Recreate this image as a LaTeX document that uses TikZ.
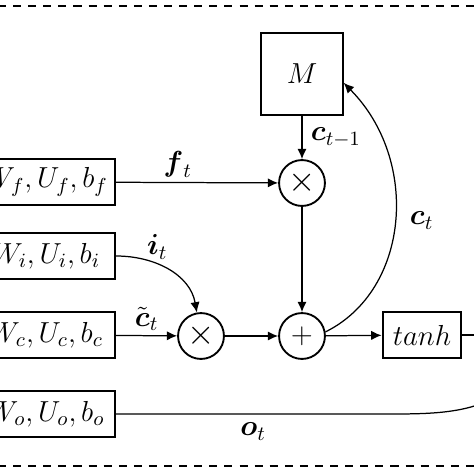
\RequirePackage{fix-cm}
\documentclass[tikz,border=0pt]{standalone}
\usepackage{amsmath,amssymb}
\usepackage{xcolor}
\usetikzlibrary{positioning, arrows.meta}

\begin{document}
\begin{tikzpicture}[
  x=0.017cm, y=0.017cm,
  parb/.style={draw, line width=1pt, minimum width=2.35cm, minimum height=0.77cm,
               inner sep=0pt, font=\fontsize{14}{16}\selectfont},
  memb/.style={draw, line width=1pt, minimum size=1.38cm, inner sep=0pt, font=\fontsize{14}{16}\selectfont},
  tanhb/.style={draw, line width=1pt, minimum width=1.34cm, minimum height=0.77cm,
                inner sep=0pt, font=\fontsize{14}{16}\selectfont},
  opc/.style={draw, circle, line width=0.9pt, minimum size=0.78cm, inner sep=0pt, font=\fontsize{17}{19}\selectfont},
  lbl/.style={font=\fontsize{14}{16}\selectfont, inner sep=2pt},
  arr/.style={-{Latex[length=5pt, width=4.5pt]}, line width=0.6pt},
  conn/.style={line width=0.6pt},
  frame/.style={dashed, line width=1.1pt, dash pattern=on 3.9pt off 3.4pt},
]
\useasboundingbox (0,0) rectangle (474,-474);
\clip (0,0) rectangle (474,-474);

% Frame of the cell
\draw[frame] (-2,-6) -- (480,-6);
\draw[frame] (-2,-466) -- (480,-466);

% Gate parameters
\node[parb] (fbox) at (46,-182) {$W_f, U_f, b_f$};
\node[parb] (ibox) at (46,-256) {$W_i, U_i, b_i$};
\node[parb] (cbox) at (46,-335) {$W_c, U_c, b_c$};
\node[parb] (obox) at (46,-414) {$W_o, U_o, b_o$};

% Memory
\node[memb] (mem) at (302,-74) {$M$};

% Operations
\node[opc] (mulf) at (302,-183) {$\times$};
\node[opc] (mulc) at (201,-336) {$\times$};
\node[opc, font=\fontsize{14}{16}\selectfont] (add) at (302,-336) {$+$};
\node[tanhb] (tanh) at (422,-335) {$tanh$};

% Loose ends on the right
\coordinate (hout)  at (500,-335);
\coordinate (obend) at (390,-414);
\coordinate (oout)  at (530,-362);

% Arrows: memory -> forget product
\draw[arr] (mem) -- node[lbl, right, xshift=2pt] {$\boldsymbol{c}_{t-1}$} (mulf);

% Arrows: gates -> products
\draw[arr] (fbox) -- node[lbl, above, pos=0.38] {$\boldsymbol{f}_t$} (mulf);
\draw[arr] (ibox.east) to[out=0, in=100] node[lbl, above, pos=0.38] {$\boldsymbol{i}_t$} (mulc.100);
\draw[arr] (cbox) -- node[lbl, above] {$\tilde{\boldsymbol{c}}_t$} (mulc);

% Arrows: products -> sum -> tanh
\draw[arr] (mulc) -- (add);
\draw[arr] (mulf) -- (add);
\draw[arr] (add) -- (tanh);
\draw[conn] (tanh) -- (hout);

% Arrow: new cell state back to memory
\draw[arr] (add.10) .. controls (410,-290) and (420,-160) .. node[lbl, right, pos=0.5, xshift=5pt] {$\boldsymbol{c}_t$} (mem.-12);

% Output gate
\draw[conn] (obox) -- node[lbl, below, yshift=-2pt] {$\boldsymbol{o}_t$} (obend) to[out=0, in=-120] (oout);

\end{tikzpicture}
\end{document}
